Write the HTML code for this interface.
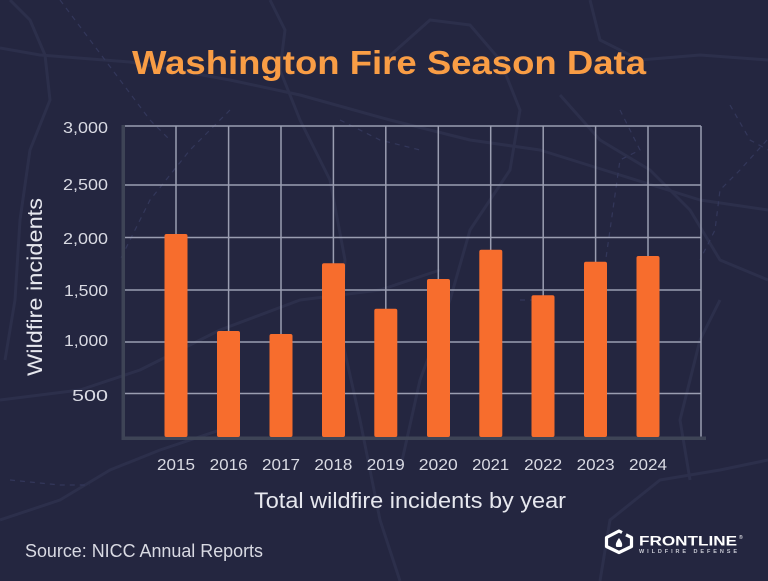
<!DOCTYPE html>
<html><head><meta charset="utf-8"><style>
html,body{margin:0;padding:0;background:#242640;}
svg{display:block;}
text{font-family:"Liberation Sans",sans-serif;}
</style></head><body>
<svg width="768" height="581" viewBox="0 0 768 581" xmlns="http://www.w3.org/2000/svg">
<rect x="0" y="0" width="768" height="581" fill="#242640"/>
<!-- faint map lines -->
<g fill="none" stroke="#2c2f4b" stroke-width="3" stroke-linejoin="round">
<polyline points="0,48 40,55 130,62 230,80 300,95 390,120 470,140 540,150 620,175 700,200 768,210"/>
<polyline points="10,0 30,20 45,55 50,100 30,150 20,220 15,300 5,360"/>
<polyline points="270,0 285,30 280,70 300,120 330,180 345,260 340,330 360,420 380,520 400,581"/>
<polyline points="385,60 430,20 470,25 500,60 520,110 510,170 470,230 450,300 420,380 400,470"/>
<polyline points="590,0 600,40 640,60 700,55 768,60"/>
<polyline points="560,95 600,140 650,170 690,210 720,260 768,280"/>
<polyline points="0,400 80,390 140,370 220,330 300,300 380,290 440,270"/>
<polyline points="0,520 60,500 110,470 160,450 220,430"/>
<polyline points="600,581 610,520 660,480 720,470 768,460"/>
<polyline points="720,300 700,340 680,420 690,480"/>
</g>
<g fill="none" stroke="#33375a" stroke-width="1.2" stroke-dasharray="5,5">
<polyline points="60,0 90,40 120,80 150,120 170,140"/>
<polyline points="230,110 190,150 150,200 120,260"/>
<polyline points="730,105 750,140 768,150"/>
<polyline points="767,140 740,170 720,190 715,230 700,260"/>
<polyline points="620,110 640,150 620,160 600,300 595,400"/>
<polyline points="340,120 380,140 420,150"/>
<polyline points="10,480 60,485 90,485"/>
<polyline points="520,300 540,300 540,350"/>
</g>
<!-- title -->
<text x="132" y="74" font-size="33" font-weight="bold" fill="#f99d45" textLength="514" lengthAdjust="spacingAndGlyphs">Washington Fire Season Data</text>
<!-- gridlines -->
<g stroke="#9a9db1" stroke-width="1.5" fill="none">
<line x1="125" y1="126" x2="701" y2="126"/>
<line x1="125" y1="185" x2="701" y2="185"/>
<line x1="125" y1="237.5" x2="701" y2="237.5"/>
<line x1="125" y1="290" x2="701" y2="290"/>
<line x1="125" y1="342" x2="701" y2="342"/>
<line x1="125" y1="393.5" x2="701" y2="393.5"/>
<line x1="176" y1="126" x2="176" y2="437"/>
<line x1="228.6" y1="126" x2="228.6" y2="437"/>
<line x1="281" y1="126" x2="281" y2="437"/>
<line x1="333.4" y1="126" x2="333.4" y2="437"/>
<line x1="385.8" y1="126" x2="385.8" y2="437"/>
<line x1="438.3" y1="126" x2="438.3" y2="437"/>
<line x1="490.7" y1="126" x2="490.7" y2="437"/>
<line x1="543.2" y1="126" x2="543.2" y2="437"/>
<line x1="595.6" y1="126" x2="595.6" y2="437"/>
<line x1="648" y1="126" x2="648" y2="437"/>
<line x1="701" y1="126" x2="701" y2="437"/>
</g>
<!-- axes -->
<rect x="121.5" y="125" width="3.5" height="315" fill="#3e4456"/>
<rect x="121.5" y="436.5" width="584.5" height="3.5" fill="#3e4456"/>
<!-- bars -->
<g fill="#f76d2d">
<rect x="164.5" y="234" width="23" height="203" rx="2"/>
<rect x="217" y="331" width="23" height="106" rx="2"/>
<rect x="269.5" y="334" width="23" height="103" rx="2"/>
<rect x="322" y="263.3" width="23" height="173.7" rx="2"/>
<rect x="374.3" y="308.7" width="23" height="128.3" rx="2"/>
<rect x="427" y="279" width="23" height="158" rx="2"/>
<rect x="479.3" y="249.7" width="23" height="187.3" rx="2"/>
<rect x="531.5" y="295.3" width="23" height="141.7" rx="2"/>
<rect x="584" y="261.7" width="23" height="175.3" rx="2"/>
<rect x="636.5" y="256" width="23" height="181" rx="2"/>
</g>
<!-- y labels -->
<g font-size="16" fill="#d9dae3" text-anchor="end">
<text x="108" y="133" textLength="45" lengthAdjust="spacingAndGlyphs">3,000</text>
<text x="108" y="190" textLength="45" lengthAdjust="spacingAndGlyphs">2,500</text>
<text x="108" y="244" textLength="45" lengthAdjust="spacingAndGlyphs">2,000</text>
<text x="108" y="296" textLength="44" lengthAdjust="spacingAndGlyphs">1,500</text>
<text x="108" y="346" textLength="44" lengthAdjust="spacingAndGlyphs">1,000</text>
<text x="108" y="401" textLength="36" lengthAdjust="spacingAndGlyphs">500</text>
</g>
<!-- y axis title -->
<text transform="translate(42,287) rotate(-90)" font-size="21" fill="#e6e7ee" text-anchor="middle" textLength="178" lengthAdjust="spacingAndGlyphs">Wildfire incidents</text>
<!-- x labels -->
<g font-size="16" fill="#d9dae3" text-anchor="middle">
<text x="176" y="470" textLength="38" lengthAdjust="spacingAndGlyphs">2015</text>
<text x="228.6" y="470" textLength="38" lengthAdjust="spacingAndGlyphs">2016</text>
<text x="281" y="470" textLength="38" lengthAdjust="spacingAndGlyphs">2017</text>
<text x="333.4" y="470" textLength="38" lengthAdjust="spacingAndGlyphs">2018</text>
<text x="385.8" y="470" textLength="38" lengthAdjust="spacingAndGlyphs">2019</text>
<text x="438.3" y="470" textLength="39" lengthAdjust="spacingAndGlyphs">2020</text>
<text x="490.7" y="470" textLength="37" lengthAdjust="spacingAndGlyphs">2021</text>
<text x="543.2" y="470" textLength="38" lengthAdjust="spacingAndGlyphs">2022</text>
<text x="595.6" y="470" textLength="38" lengthAdjust="spacingAndGlyphs">2023</text>
<text x="648" y="470" textLength="38" lengthAdjust="spacingAndGlyphs">2024</text>
</g>
<!-- x axis title -->
<text x="410" y="508" font-size="22" fill="#e6e7ee" text-anchor="middle" textLength="312" lengthAdjust="spacingAndGlyphs">Total wildfire incidents by year</text>
<!-- source -->
<text x="25" y="557" font-size="18" fill="#d9dae3" textLength="238" lengthAdjust="spacingAndGlyphs">Source: NICC Annual Reports</text>
<!-- logo -->
<g>
<path d="M622 532.5 L619 531 L606.5 537.5 L606.5 546.5 L619 552.5 L631.5 546.5 L631.5 537.5 L626 534.8" fill="none" stroke="#ffffff" stroke-width="3.2" stroke-linejoin="round"/>
<path d="M619 538 C616 542 615 545 616.5 547 L621.5 547 C623 545 622 542 619 538 Z" fill="#ffffff"/>
<text x="639" y="545.5" font-size="13.5" font-weight="bold" fill="#ffffff" textLength="98" lengthAdjust="spacingAndGlyphs">FRONTLINE</text>
<text x="739" y="539" font-size="5" fill="#ffffff">®</text>
<text x="639" y="553" font-size="5.5" font-weight="bold" fill="#c9cad4" textLength="98" lengthAdjust="spacing">WILDFIRE DEFENSE</text>
</g>
</svg>
</body></html>
